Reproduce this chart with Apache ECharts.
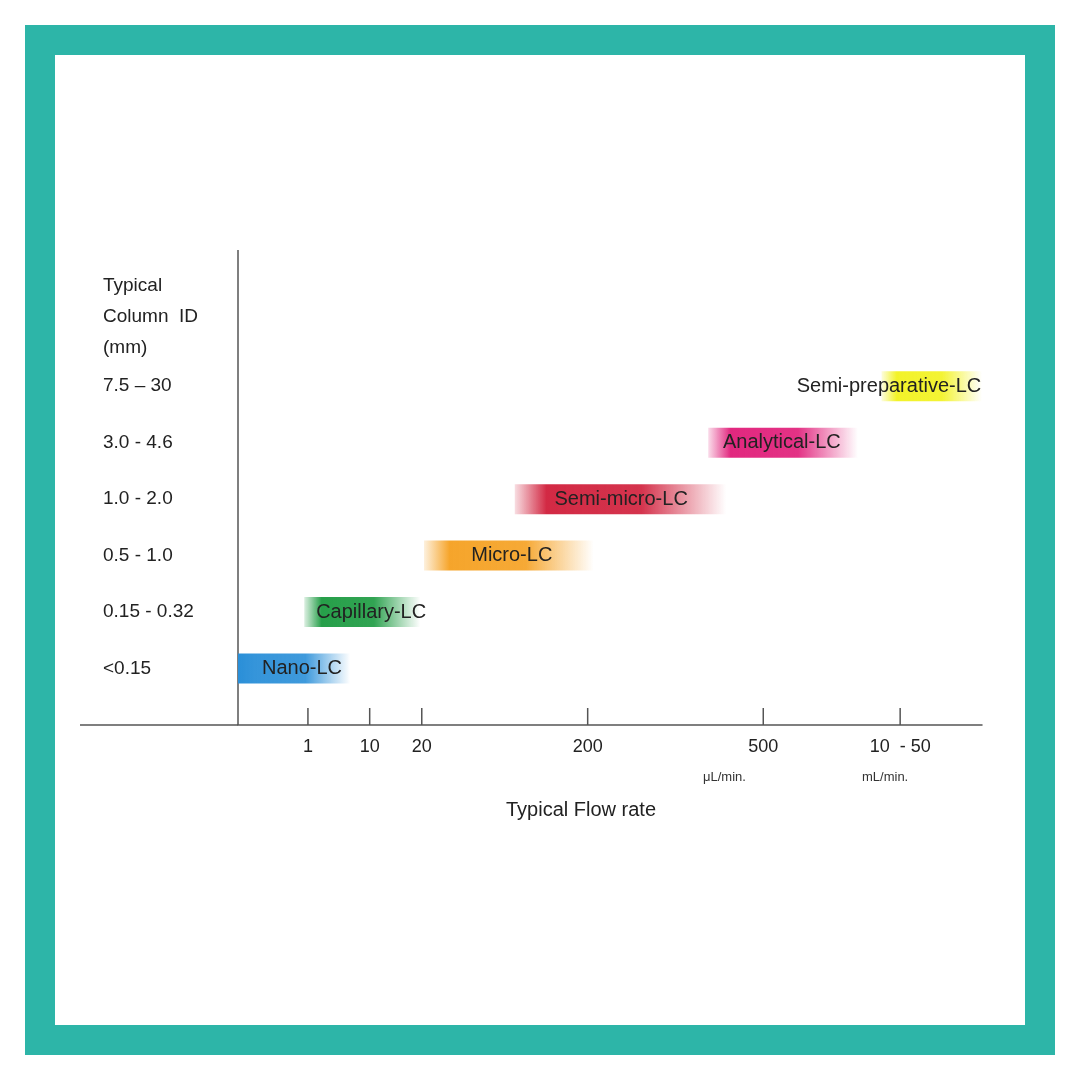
<!DOCTYPE html>
<html>
<head>
<meta charset="utf-8">
<script src="https://cdn.jsdelivr.net/npm/echarts@6/dist/echarts.min.js"></script>
<style>
  html, body { margin: 0; padding: 0; background: #fff; }
  #frame { position: absolute; left: 25px; top: 25px; width: 970px; height: 970px; border: 30px solid #2db5a8; background: #fff; }
  #chart { position: absolute; left: 0; top: 0; width: 1080px; height: 1080px; }
</style>
</head>
<body>
<div id="frame"></div>
<div id="chart"></div>
<script>
// column ID rows, bottom to top (y = 1..6)
const rowLabels = ['<0.15', '0.15 - 0.32', '0.5 - 1.0', '1.0 - 2.0', '3.0 - 4.6', '7.5 – 30'];
// flow rate ticks, placed on a 0..100 position scale
const tickLabels = ['1', '10', '20', '200', '500', '10  - 50'];
const tickPos = [9.4, 17.7, 24.7, 47.0, 70.6, 89.0];
// LC techniques: row, start, end (position scale), label centre, colour
const names = ['Nano-LC', 'Capillary-LC', 'Micro-LC', 'Semi-micro-LC', 'Analytical-LC', 'Semi-preparative-LC'];
const rows = [1, 2, 3, 4, 5, 6];
const starts = [0, 8.9, 25.0, 37.2, 63.2, 86.5];
const ends = [15.1, 24.5, 47.8, 65.6, 83.3, 100];
const labelAt = [8.6, 17.9, 36.8, 51.5, 73.1, 87.5];
const colors = ['#2a8fd8', '#1b9a40', '#f5a020', '#d01e3a', '#e01c78', '#f2f21e'];

const chart = echarts.init(document.getElementById('chart'));
const font = '"Liberation Sans", Arial, sans-serif';

function hexA(hex, a) {
  const n = parseInt(hex.slice(1), 16);
  return `rgba(${n >> 16},${(n >> 8) & 255},${n & 255},${a})`;
}

chart.setOption({
  animation: false,
  grid: { left: 238, right: 98, top: 262, bottom: 355 },
  xAxis: {
    type: 'value', min: 0, max: 100,
    splitLine: { show: false },
    axisLine: { lineStyle: { color: '#555', width: 1.5 } },
    axisTick: { show: false },
    axisLabel: { show: false },
  },
  yAxis: {
    type: 'value', min: 0, max: 8.2, interval: 1,
    splitLine: { show: false },
    axisLine: { show: false },
    axisTick: { show: false },
    axisLabel: {
      align: 'left', margin: 135, color: '#222', fontFamily: font, fontSize: 19,
      formatter: (v) => rowLabels[v - 1] || '',
    },
  },
  graphic: [
    { type: 'line', shape: { x1: 80, y1: 725, x2: 238, y2: 725 }, style: { stroke: '#555', lineWidth: 1.5 } },
    { type: 'line', shape: { x1: 238, y1: 250, x2: 238, y2: 725 }, style: { stroke: '#555', lineWidth: 1.5 } },
    { type: 'text', left: 103, top: 270, style: { text: 'Typical\nColumn  ID\n(mm)', font: '19px ' + font, fill: '#222', lineHeight: 31 } },
    { type: 'text', left: 703, top: 771, style: { text: 'μL/min.', font: '13px ' + font, fill: '#333' } },
    { type: 'text', left: 862, top: 771, style: { text: 'mL/min.', font: '13px ' + font, fill: '#333' } },
    { type: 'text', left: 506, top: 800, style: { text: 'Typical Flow rate', font: '20px ' + font, fill: '#222' } },
  ],
  series: [
    {
      type: 'custom',
      data: names.map((n, i) => [starts[i], ends[i], rows[i], labelAt[i], i]),
      renderItem: (params, api) => {
        const i = api.value(4);
        const p0 = api.coord([api.value(0), api.value(2)]);
        const p1 = api.coord([api.value(1), api.value(2)]);
        const lc = api.coord([api.value(3), api.value(2)]);
        const c = colors[i];
        const h = 30;
        return {
          type: 'group',
          children: [
            {
              type: 'rect',
              shape: { x: p0[0], y: p0[1] - h / 2, width: p1[0] - p0[0], height: h },
              style: {
                fill: new echarts.graphic.LinearGradient(0, 0, 1, 0, [
                  { offset: 0, color: hexA(c, i === 0 ? 1 : 0.15) },
                  { offset: 0.15, color: hexA(c, 0.95) },
                  { offset: 0.6, color: hexA(c, 0.9) },
                  { offset: 1, color: hexA(c, 0) },
                ]),
              },
            },
            {
              type: 'text',
              x: lc[0], y: lc[1],
              style: { text: names[i], font: '20px ' + font, fill: '#222', align: 'center', verticalAlign: 'middle' },
            },
          ],
        };
      },
    },
    {
      // tick marks and labels of the flow axis
      type: 'custom',
      data: tickPos.map((p, i) => [p, i]),
      renderItem: (params, api) => {
        const p = api.coord([api.value(0), 0]);
        return {
          type: 'group',
          children: [
            { type: 'line', shape: { x1: p[0], y1: p[1], x2: p[0], y2: p[1] - 17 }, style: { stroke: '#555', lineWidth: 1.5 } },
            { type: 'text', x: p[0], y: p[1] + 22, style: { text: tickLabels[api.value(1)], font: '18px ' + font, fill: '#222', align: 'center', verticalAlign: 'middle' } },
          ],
        };
      },
    },
  ],
});
</script>
</body>
</html>
